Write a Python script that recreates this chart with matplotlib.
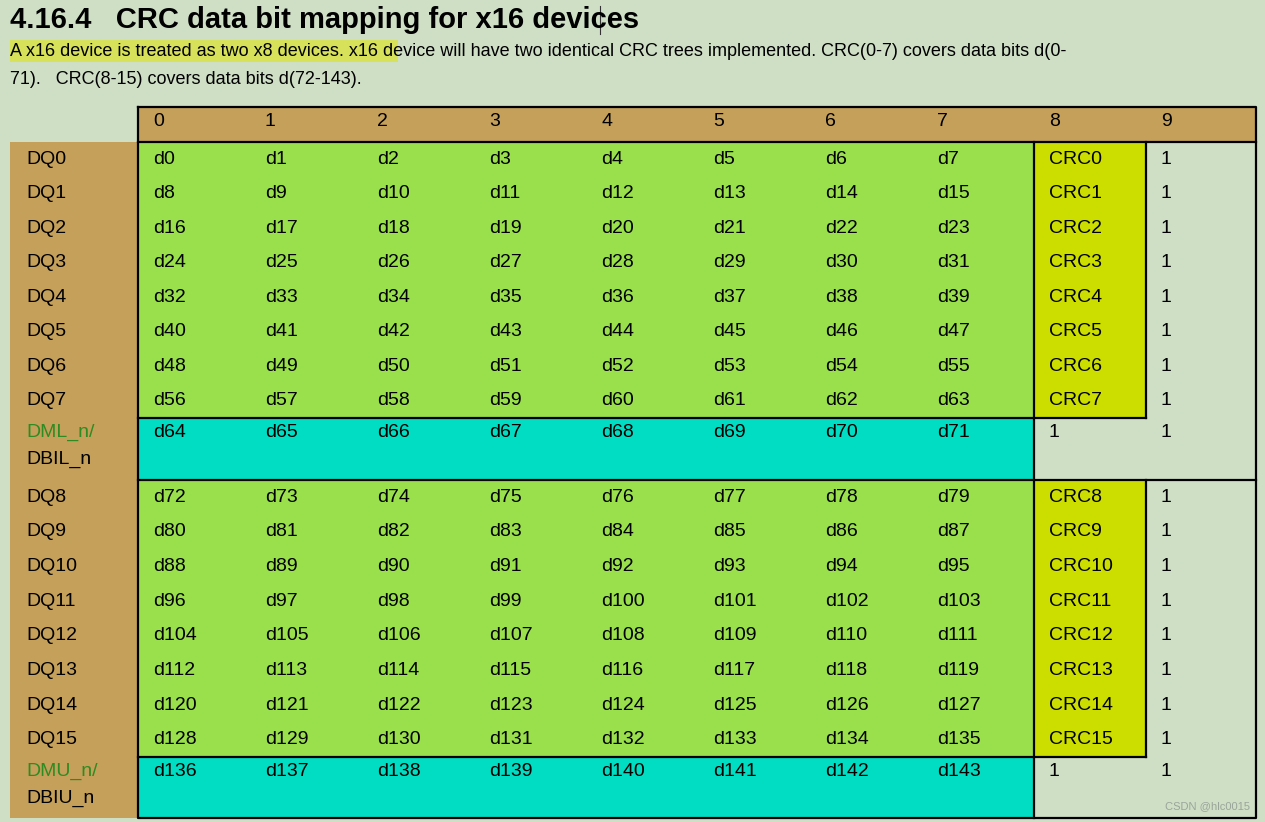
import matplotlib
matplotlib.use("Agg")
import matplotlib.pyplot as plt
from matplotlib.patches import Rectangle

title = "4.16.4   CRC data bit mapping for x16 devices"
hl_text = "A x16 device is treated as two x8 devices"
body1_rest = ". x16 device will have two identical CRC trees implemented. CRC(0-7) covers data bits d(0-"
body2 = "71).   CRC(8-15) covers data bits d(72-143)."
col_labels = [str(i) for i in range(10)]
dq_low = [f"DQ{i}" for i in range(8)]
dq_high = [f"DQ{i}" for i in range(8, 16)]
crc_low = [f"CRC{i}" for i in range(8)]
crc_high = [f"CRC{i}" for i in range(8, 16)]
data_bits = [f"d{i}" for i in range(144)]
fill_value = "1"

BG = "#CFDFC5"; BROWN = "#C4A05A"; GREEN = "#99E04C"; CYAN = "#00DDC2"; YEL = "#CCDD00"
W, H = 1265, 822
fig = plt.figure(figsize=(W/100, H/100), dpi=100, facecolor=BG)
ax = fig.add_axes([0, 0, 1, 1]); ax.set_xlim(0, W); ax.set_ylim(H, 0); ax.axis("off")
FONT = "Liberation Sans"

def rect(x0, y0, x1, y1, c, lw=0, ec="none", z=1):
    ax.add_patch(Rectangle((x0, y0), x1-x0, y1-y0, fc=c, ec=ec, lw=lw, zorder=z))

def txt(x, y, s, c="black", fs=14, **kw):
    ax.text(x, y, s, color=c, fontsize=fs, family=FONT, va="center", ha="left", **kw)

def line(xs, ys):
    ax.plot(xs, ys, color="black", lw=1.6, zorder=5, solid_capstyle="projecting")

# title + body
txt(10, 20, title, fs=21, weight="bold")
ax.plot([600, 600], [6, 34], color="#333", lw=0.8)
rect(10, 40, 398, 62, "#D7E15A")
t = ax.text(10, 52, hl_text, fontsize=13, family=FONT, va="center")
fig.canvas.draw()
bb = t.get_window_extent()
ax.text(10 + bb.width, 52, body1_rest, fontsize=13, family=FONT, va="center")
txt(10, 80, body2, fs=13)

colx = [138 + 112*i for i in range(10)] + [1256]
top, hdr = 107, 142
rh = 34.5
low_rows = [hdr + rh*i for i in range(9)]      # 142..418
dml_top, dml_bot = 418, 480
high_rows = [dml_bot + (757-dml_bot)/8*i for i in range(9)]
dmu_top, dmu_bot = 757, 818

# header
rect(colx[0], top, colx[-1], hdr, BROWN)
for i, lab in enumerate(col_labels):
    txt(colx[i]+15, 121, lab)
# left column
rect(10, hdr, colx[0], dmu_bot, BROWN)

def block(rows, dqs, crcs, base):
    for r in range(8):
        y0, y1 = rows[r], rows[r+1]; yc = (y0+y1)/2
        rect(colx[0], y0, colx[8], y1, GREEN)
        rect(colx[8], y0, colx[9], y1, YEL)
        txt(26, yc, dqs[r])
        for c in range(8):
            txt(colx[c]+15, yc, data_bits[base + r*8 + c])
        txt(colx[8]+15, yc, crcs[r])
        txt(colx[9]+15, yc, fill_value)

block(low_rows, dq_low, crc_low, 0)
block(high_rows, dq_high, crc_high, 72)

for (y0, y1, a, b, base) in [(dml_top, dml_bot, "DML_n/", "DBIL_n", 64), (dmu_top, dmu_bot, "DMU_n/", "DBIU_n", 136)]:
    rect(colx[0], y0, colx[8], y1, CYAN)
    txt(26, y0+14, a, c="#2E8B22")
    txt(26, y0+41, b)
    for c in range(8):
        txt(colx[c]+15, y0+14, data_bits[base+c])
    txt(colx[8]+15, y0+14, fill_value)
    txt(colx[9]+15, y0+14, fill_value)

# borders
line([colx[0], colx[-1], colx[-1], colx[0], colx[0]], [top, top, dmu_bot, dmu_bot, top])
line([colx[0], colx[-1]], [hdr, hdr])
line([colx[0], colx[9]], [dml_top, dml_top])
line([colx[0], colx[-1]], [dml_bot, dml_bot])
line([colx[0], colx[9]], [dmu_top, dmu_top])
line([colx[8], colx[8]], [hdr, dmu_bot])
line([colx[9], colx[9]], [hdr, dml_top])
line([colx[9], colx[9]], [dml_bot, dmu_top])

ax.text(1250, 806, "CSDN @hlc0015", fontsize=8, color="#9AA59A", ha="right", va="center", family=FONT)
fig.savefig("out.png", dpi=100, facecolor=BG)
